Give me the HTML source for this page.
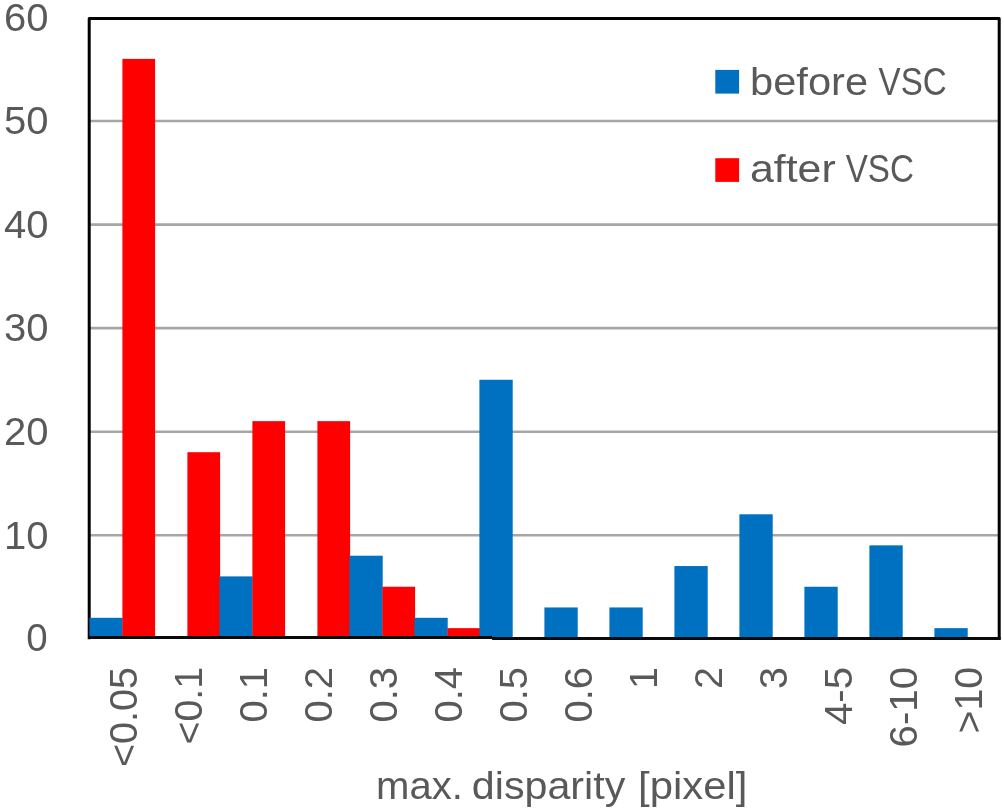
<!DOCTYPE html>
<html lang="en"><head><meta charset="utf-8"><title>max. disparity histogram</title>
<style>html,body{margin:0;padding:0;background:#fff;overflow:hidden}svg{display:block;font-family:"Liberation Sans",sans-serif;font-size:38.5px;fill:#595959}</style></head><body>
<svg width="1004" height="810" viewBox="0 0 1004 810">
<rect x="0" y="0" width="1004" height="810" fill="#ffffff"/>
<g stroke="#a6a6a6" stroke-width="2.6" fill="none">
<line x1="89.20" y1="535.32" x2="999.20" y2="535.32"/>
<line x1="89.20" y1="431.74" x2="999.20" y2="431.74"/>
<line x1="89.20" y1="328.16" x2="999.20" y2="328.16"/>
<line x1="89.20" y1="224.58" x2="999.20" y2="224.58"/>
<line x1="89.20" y1="121.00" x2="999.20" y2="121.00"/>
</g>
<path d="M89.20 639.3V18.45H999.20V639.6" fill="none" stroke="#000" stroke-width="3" stroke-linejoin="round"/>
<g shape-rendering="auto">
<rect x="89.40" y="617.80" width="33.30" height="20.70" fill="#0070c0"/>
<rect x="122.40" y="58.90" width="32.70" height="579.60" fill="#ff0000"/>
<rect x="187.40" y="452.20" width="32.70" height="186.30" fill="#ff0000"/>
<rect x="219.40" y="576.40" width="33.30" height="62.10" fill="#0070c0"/>
<rect x="252.40" y="421.15" width="32.70" height="217.35" fill="#ff0000"/>
<rect x="317.40" y="421.15" width="32.70" height="217.35" fill="#ff0000"/>
<rect x="349.40" y="555.70" width="33.30" height="82.80" fill="#0070c0"/>
<rect x="382.40" y="586.75" width="32.70" height="51.75" fill="#ff0000"/>
<rect x="414.40" y="617.80" width="33.30" height="20.70" fill="#0070c0"/>
<rect x="447.40" y="628.15" width="32.70" height="10.35" fill="#ff0000"/>
<rect x="479.40" y="379.75" width="33.30" height="258.75" fill="#0070c0"/>
<rect x="544.40" y="607.45" width="33.30" height="31.05" fill="#0070c0"/>
<rect x="609.40" y="607.45" width="33.30" height="31.05" fill="#0070c0"/>
<rect x="674.40" y="566.05" width="33.30" height="72.45" fill="#0070c0"/>
<rect x="739.40" y="514.30" width="33.30" height="124.20" fill="#0070c0"/>
<rect x="804.40" y="586.75" width="33.30" height="51.75" fill="#0070c0"/>
<rect x="869.40" y="545.35" width="33.30" height="93.15" fill="#0070c0"/>
<rect x="934.40" y="628.15" width="33.30" height="10.35" fill="#0070c0"/>
</g>
<path d="M88.10 637.5H492.1M492.1 638.4H1000.70" fill="none" stroke="#0a0a0a" stroke-width="3"/>
<g text-anchor="end" style="font-size:38.5px">
<text x="48.40" y="30.62" textLength="44.5" lengthAdjust="spacingAndGlyphs">60</text>
<text x="48.40" y="134.20" textLength="44.5" lengthAdjust="spacingAndGlyphs">50</text>
<text x="48.40" y="237.78" textLength="44.5" lengthAdjust="spacingAndGlyphs">40</text>
<text x="48.40" y="341.36" textLength="44.5" lengthAdjust="spacingAndGlyphs">30</text>
<text x="48.40" y="444.94" textLength="44.5" lengthAdjust="spacingAndGlyphs">20</text>
<text x="48.40" y="548.52" textLength="44.5" lengthAdjust="spacingAndGlyphs">10</text>
<text x="47.60" y="650.80">0</text>
</g>
<g text-anchor="end" style="font-size:39.5px">
<text transform="translate(137.00,667.00) rotate(-90)" textLength="100.0" lengthAdjust="spacingAndGlyphs">&lt;0.05</text>
<text transform="translate(202.00,667.00) rotate(-90)" textLength="77.5" lengthAdjust="spacingAndGlyphs">&lt;0.1</text>
<text transform="translate(267.00,667.00) rotate(-90)" textLength="55.5" lengthAdjust="spacingAndGlyphs">0.1</text>
<text transform="translate(332.00,667.00) rotate(-90)" textLength="55.5" lengthAdjust="spacingAndGlyphs">0.2</text>
<text transform="translate(397.00,667.00) rotate(-90)" textLength="55.5" lengthAdjust="spacingAndGlyphs">0.3</text>
<text transform="translate(462.00,667.00) rotate(-90)" textLength="55.5" lengthAdjust="spacingAndGlyphs">0.4</text>
<text transform="translate(527.00,667.00) rotate(-90)" textLength="55.5" lengthAdjust="spacingAndGlyphs">0.5</text>
<text transform="translate(592.00,667.00) rotate(-90)" textLength="55.5" lengthAdjust="spacingAndGlyphs">0.6</text>
<text transform="translate(657.00,667.00) rotate(-90)">1</text>
<text transform="translate(722.00,667.00) rotate(-90)">2</text>
<text transform="translate(787.00,667.00) rotate(-90)">3</text>
<text transform="translate(852.00,667.00) rotate(-90)" textLength="58.0" lengthAdjust="spacingAndGlyphs">4-5</text>
<text transform="translate(917.00,667.00) rotate(-90)" textLength="80.4" lengthAdjust="spacingAndGlyphs">6-10</text>
<text transform="translate(982.00,667.00) rotate(-90)" textLength="66.5" lengthAdjust="spacingAndGlyphs">&gt;10</text>
</g>
<rect x="715.3" y="69.9" width="23.8" height="23.7" fill="#0070c0"/>
<rect x="715.3" y="158.20" width="23.8" height="23.7" fill="#ff0000"/>
<text y="94.50"><tspan x="750.09" textLength="118.00" lengthAdjust="spacingAndGlyphs" style="font-size:39px">before</tspan> <tspan x="878.56" textLength="68.14" lengthAdjust="spacingAndGlyphs" style="font-size:38px">VSC</tspan></text>
<text y="181.90"><tspan x="749.92" textLength="85.85" lengthAdjust="spacingAndGlyphs" style="font-size:39px">after</tspan> <tspan x="845.66" textLength="68.25" lengthAdjust="spacingAndGlyphs" style="font-size:38px">VSC</tspan></text>
<text y="799.00"><tspan x="376.10" textLength="86.81" lengthAdjust="spacingAndGlyphs" style="font-size:39px">max.</tspan> <tspan x="471.83" textLength="153.48" lengthAdjust="spacingAndGlyphs" style="font-size:39px">disparity</tspan> <tspan x="638.02" textLength="109.32" lengthAdjust="spacingAndGlyphs" style="font-size:39px">[pixel]</tspan></text>
</svg></body></html>
